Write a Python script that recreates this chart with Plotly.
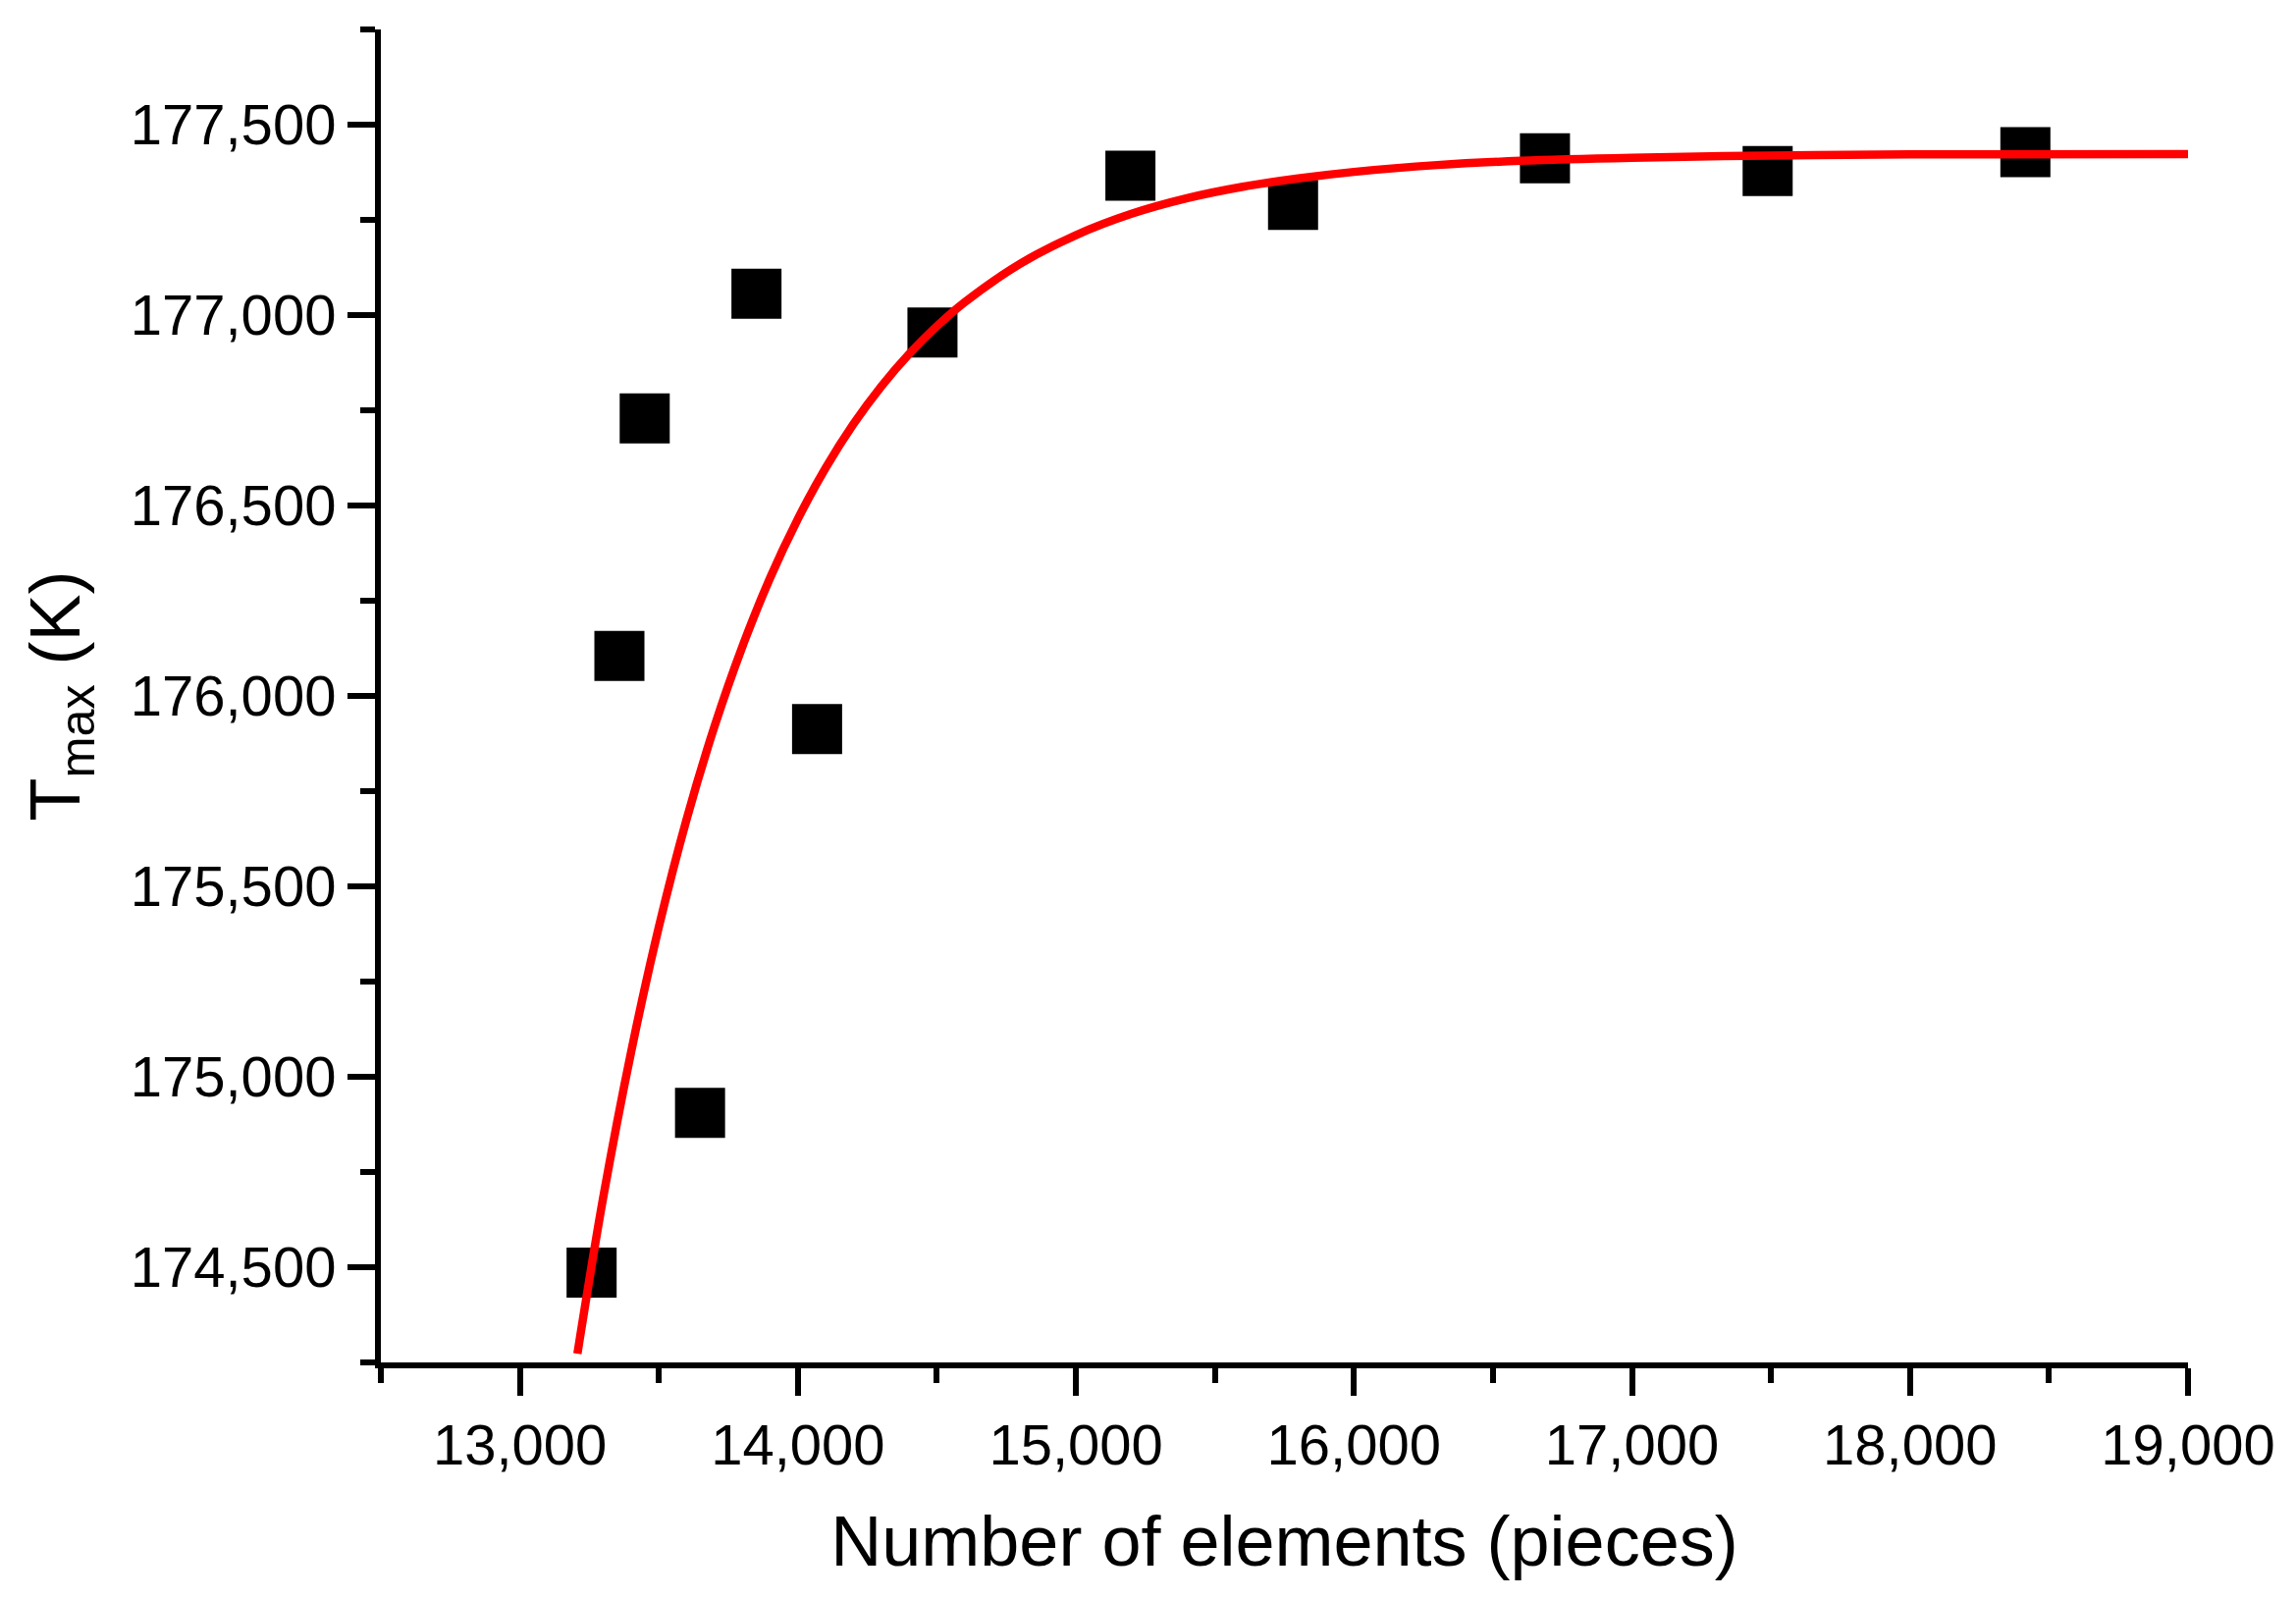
import plotly.graph_objects as go

elements = [13258, 13358, 13449, 13648, 13851, 14069, 14484, 15196, 15781, 16687, 17488, 18415]
t_max = [174486, 176105, 176729, 174905, 177056, 175913, 176954, 177366, 177289, 177412, 177378, 177428]

# Fitted curve, points
fit_x = [13207, 13300, 13400, 13500, 13600, 13700, 13800, 13900, 14000, 14100, 14200, 14300,
         14400, 14500, 14600, 14800, 15000, 15200, 15400, 15600, 15800, 16000, 16300, 16600,
         17000, 17500, 18000, 19000]
fit_y = [174273, 174684, 175065, 175394, 175677, 175920, 176129, 176310, 176465, 176599, 176714, 176813,
         176898, 176971, 177034, 177135, 177210, 177266, 177307, 177337, 177359, 177376, 177394, 177405,
         177413, 177419, 177422, 177423]

x_ticks = [13000, 14000, 15000, 16000, 17000, 18000, 19000]
y_ticks = [174500, 175000, 175500, 176000, 176500, 177000, 177500]

FONT = "Liberation Sans, Arial, sans-serif"

fig = go.Figure()
fig.add_trace(go.Scatter(
    x=elements, y=t_max, mode="markers",
    marker=dict(symbol="square", size=51, color="black", line=dict(width=0)),
    showlegend=False,
))
fig.add_trace(go.Scatter(
    x=fit_x, y=fit_y, mode="lines",
    line=dict(color="#ff0000", width=8.5, shape="spline", smoothing=1.0),
    showlegend=False,
))

axis_common = dict(
    showgrid=False, zeroline=False, showline=True, linecolor="black", linewidth=6,
    ticks="outside", tickcolor="black", tickwidth=6, ticklen=28,
    tickfont=dict(family=FONT, size=58, color="black"),
    separatethousands=True, tickformat=",d", mirror=False,
)

fig.update_xaxes(
    range=[12500, 19000], tickvals=x_ticks,
    minor=dict(dtick=500, tick0=12500, ticks="outside", ticklen=15, tickwidth=6, tickcolor="black", showgrid=False),
    title=dict(text="Number of elements (pieces)", font=dict(family=FONT, size=72, color="black"), standoff=44),
    **axis_common,
)
fig.update_yaxes(
    range=[174250, 177750], tickvals=y_ticks,
    minor=dict(dtick=250, tick0=174250, ticks="outside", ticklen=15, tickwidth=6, tickcolor="black", showgrid=False),
    title=dict(text="T<sub>max</sub> (K)", font=dict(family=FONT, size=72, color="black"), standoff=30),
    **axis_common,
)

# the page body adds an 8 px margin, so the figure is 16 px smaller and margins shifted by 8
fig.update_layout(
    width=2323, height=1612,
    margin=dict(l=380, r=102, t=22, b=232, autoexpand=False),
    plot_bgcolor="white", paper_bgcolor="white",
)

fig.write_html("out.html")
